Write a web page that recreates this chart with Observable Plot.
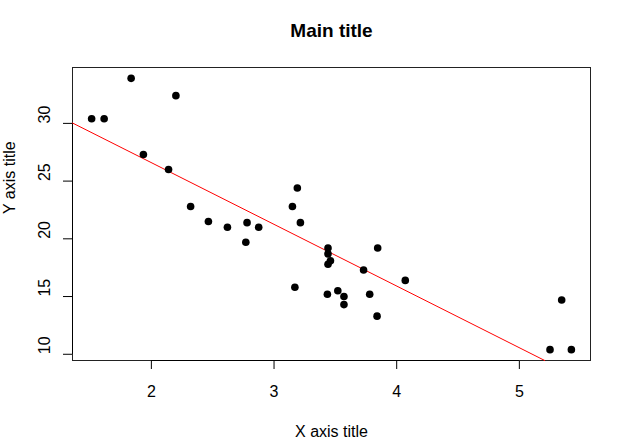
<!DOCTYPE html>
<html>
<head>
<meta charset="utf-8">
<script src="https://cdn.jsdelivr.net/npm/d3@7"></script>
<script src="https://cdn.jsdelivr.net/npm/@observablehq/plot@0.6"></script>
<style>
  html, body { margin: 0; padding: 0; background: #fff; }
</style>
</head>
<body>
<div id="chart"></div>
<script>
// mtcars: weight (1000 lbs) and miles per gallon
const wt  = [2.620, 2.875, 2.320, 3.215, 3.440, 3.460, 3.570, 3.190, 3.150, 3.440, 3.440, 4.070, 3.730, 3.780, 5.250, 5.424, 5.345, 2.200, 1.615, 1.835, 2.465, 3.520, 3.435, 3.840, 3.845, 1.935, 2.140, 1.513, 3.170, 2.770, 3.570, 2.780];
const mpg = [21.0, 21.0, 22.8, 21.4, 18.7, 18.1, 14.3, 24.4, 22.8, 19.2, 17.8, 16.4, 17.3, 15.2, 10.4, 10.4, 14.7, 32.4, 30.4, 33.9, 21.5, 15.5, 15.2, 13.3, 19.2, 27.3, 26.0, 30.4, 15.8, 19.7, 15.0, 21.4];
const xTicks = [2, 3, 4, 5];
const yTicks = [10, 15, 20, 25, 30];
const fitIntercept = 37.285;
const fitSlope = -5.344;
const titleText = "Main title";
const xTitle = "X axis title";
const yTitle = "Y axis title";

const points = wt.map((w, i) => ({x: w, y: mpg[i]}));
const xDomain = [1.357, 5.580];
const yDomain = [9.46, 34.84];
const fitLine = [
  {x: xDomain[0], y: fitIntercept + fitSlope * xDomain[0]},
  {x: (yDomain[0] - fitIntercept) / fitSlope, y: yDomain[0]}
];

const chart = Plot.plot({
  width: 618,
  height: 446,
  marginTop: 67,
  marginBottom: 86,
  marginLeft: 72,
  marginRight: 28,
  style: {fontFamily: "'Liberation Sans', Arial, Helvetica, sans-serif", fontSize: "16px", background: "#fff", color: "#000"},
  x: {domain: xDomain, ticks: xTicks, tickSize: 9, tickFormat: () => "", label: null},
  y: {domain: yDomain, ticks: yTicks, tickSize: 9, tickFormat: () => "", label: null},
  marks: [
    Plot.frame({stroke: "#222"}),
    Plot.ruleY([yDomain[0]], {x1: xTicks[0], x2: xTicks[xTicks.length - 1], stroke: "#000"}),
    Plot.ruleX([xDomain[0]], {y1: yTicks[0], y2: yTicks[yTicks.length - 1], stroke: "#000"}),
    Plot.line(fitLine, {x: "x", y: "y", stroke: "#ff0000", strokeWidth: 1}),
    Plot.dot(points, {x: "x", y: "y", r: 3.8, fill: "#000", stroke: "none"}),
    Plot.text(xTicks, {x: d => d, frameAnchor: "bottom", lineAnchor: "middle", dy: 31, text: d => String(d), fontSize: 16, fill: "#000"}),
    Plot.text(yTicks, {y: d => d, frameAnchor: "left", lineAnchor: "middle", dx: -28, rotate: -90, text: d => String(d), fontSize: 16, fill: "#000"}),
    Plot.text([titleText], {frameAnchor: "top", lineAnchor: "middle", dy: -37, text: d => d, fontSize: 19, fontWeight: "bold", fill: "#000"}),
    Plot.text([xTitle], {frameAnchor: "bottom", lineAnchor: "middle", dy: 71, text: d => d, fontSize: 16, fill: "#000"}),
    Plot.text([yTitle], {frameAnchor: "left", lineAnchor: "middle", dx: -63, rotate: -90, text: d => d, fontSize: 16, fill: "#000"})
  ]
});
document.getElementById("chart").appendChild(chart);
</script>
</body>
</html>
